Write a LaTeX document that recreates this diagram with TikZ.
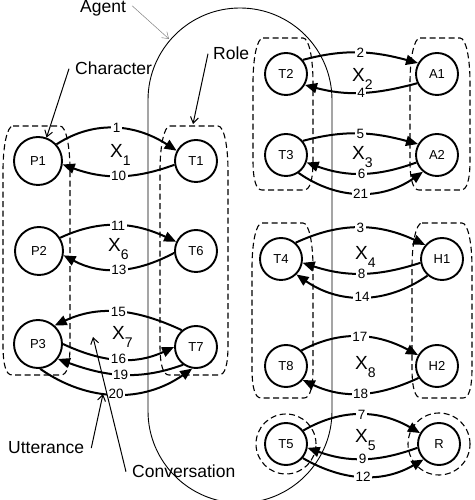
\documentclass[tikz,border=0pt]{standalone}
\usepackage{fontspec}
\setmainfont{Liberation Sans}
\usetikzlibrary{arrows.meta}

% dashed group outline: left, right, bottom, top
\newcommand{\grpoutline}[4]{%
  \draw [grp] (#1+10,#4) -- (#2-10,#4)
    .. controls (#2-4,#4) and (#2,#4-20) .. (#2,#4-45) -- (#2,#3+30)
    .. controls (#2,#3+10) and (#2-3,#3) .. (#2-9,#3) -- (#1+9,#3)
    .. controls (#1+3,#3) and (#1,#3+10) .. (#1,#3+30) -- (#1,#4-45)
    .. controls (#1,#4-20) and (#1+4,#4) .. (#1+10,#4) -- cycle;}
\newcommand{\xlab}[1]{X\raisebox{-8pt}{\fontsize{14}{14}\selectfont #1}}

\begin{document}
\begin{tikzpicture}[x=1pt, y=1pt,
    role/.style={draw, circle, line width=1.9pt, minimum size=42pt, inner sep=0pt, fill=white, font=\fontsize{13}{13}\selectfont},
    char/.style={role, minimum size=48pt},
    msg/.style={-{Triangle[length=12pt,width=10pt]}, line width=2pt},
    num/.style={fill=white, inner sep=1.5pt, font=\fontsize{13.5}{13.5}\selectfont},
    grp/.style={dash pattern=on 6pt off 3.5pt, line width=1.1pt},
    lbl/.style={anchor=base west, inner sep=0pt, font=\fontsize{17.5}{17.5}\selectfont},
    ptr/.style={-{Straight Barb[length=6pt,width=8pt]}, line width=1pt},
    xl/.style={anchor=base west, inner sep=0pt, font=\fontsize{19}{19}\selectfont}]

    \useasboundingbox (0,0) rectangle (474,500);

    % agent
    \begin{scope}
      \clip (0,0) rectangle (474,500);
      \draw [line width=0.9pt, rounded corners=92pt] (148,-3) rectangle (332,492);
    \end{scope}

    % characters, roles
    \grpoutline{3}{70}{125}{374}
    \grpoutline{160}{228}{125}{374}
    \grpoutline{253}{313}{310}{462}
    \grpoutline{410}{470}{310}{462}
    \grpoutline{252}{313}{102}{277}
    \grpoutline{412}{472}{102}{277}
    \draw [grp] (286,56) circle (30);
    \draw [grp] (439,56) circle (31);

    \node [char] at (38,339) (P1) {P1};
    \node [role] at (196,339) (T1) {T1};
    \node [char] at (39,249) (P2) {P2};
    \node [role] at (196,249) (T6) {T6};
    \node [char] at (38,156) (P3) {P3};
    \node [role] at (196,153) (T7) {T7};

    \node [role] at (286,426) (T2) {T2};
    \node [role] at (437,426) (A1) {A1};
    \node [role] at (286,345) (T3) {T3};
    \node [role] at (437,345) (A2) {A2};
    \node [role] at (281,241) (T4) {T4};
    \node [role] at (442,241) (H1) {H1};
    \node [role] at (286,134) (T8) {T8};
    \node [role] at (437,134) (H2) {H2};
    \node [role] at (286,56) (T5) {T5};
    \node [role] at (439,56) (R) {R};

    % utterances
    \path [msg, draw] (P1.42) to[out=33,in=147] node[num] {1} (T1.152);
    \path [msg, draw] (T1.190) to[out=200,in=-20] node[num] {10} (P1.352);
    \path [msg, draw] (P2.32) to[out=25,in=155] node[num] {11} (T6.155);
    \path [msg, draw] (T6.185) to[out=208,in=-28] node[num] {13} (P2.350);
    \path [msg, draw] (T7.130) to[out=155,in=25] node[num] {15} (P3.48);
    \path [msg, draw] (P3.0) to[out=-25,in=205] node[num] {16} (T7.180);
    \path [msg, draw] (T7.234) to[out=200,in=-20] node[num] {19} (P3.323);
    \path [msg, draw] (P3.275) to[out=-35,in=215] node[num] {20} (T7.260);

    \path [msg, draw] (T2.40) to[out=15,in=165] node[num] {2} (A1.150);
    \path [msg, draw] (A1.205) to[out=195,in=-15] node[num] {4} (T2.330);
    \path [msg, draw] (T3.40) to[out=15,in=165] node[num] {5} (A2.150);
    \path [msg, draw] (A2.200) to[out=200,in=-20] node[num] {6} (T3.340);
    \path [msg, draw] (T3.305) to[out=-35,in=215] node[num] {21} (A2.230);
    \path [msg, draw] (T4.48) to[out=25,in=155] node[num] {3} (H1.140);
    \path [msg, draw] (H1.190) to[out=198,in=-18] node[num] {8} (T4.350);
    \path [msg, draw] (H1.229) to[out=215,in=-35] node[num] {14} (T4.315);
    \path [msg, draw] (T8.45) to[out=28,in=152] node[num] {17} (H2.150);
    \path [msg, draw] (H2.213) to[out=205,in=-25] node[num] {18} (T8.320);
    \path [msg, draw] (T5.38) to[out=30,in=150] node[num] {7} (R.150);
    \path [msg, draw] (R.190) to[out=200,in=-20] node[num] {9} (T5.350);
    \path [msg, draw] (T5.320) to[out=-30,in=210] node[num] {12} (R.225);

    % conversations
    \node [xl] at (110,342) (X1) {\xlab{1}};
    \node [xl] at (108,248) (X6) {\xlab{6}};
    \node [xl] at (112,160) (X7) {\xlab{7}};
    \node [xl] at (352,418) (X2) {\xlab{2}};
    \node [xl] at (352,340) (X3) {\xlab{3}};
    \node [xl] at (355,240) (X4) {\xlab{4}};
    \node [xl] at (355,130) (X8) {\xlab{8}};
    \node [xl] at (355,57) (X5) {\xlab{5}};

    % labels
    \node [lbl] at (80,487) (agentlbl) {Agent};
    \node [lbl] at (213,440) (rolelbl) {Role};
    \node [lbl] at (75,425) (charlbl) {Character};
    \node [lbl] at (8,46) (uttlbl) {Utterance};
    \node [lbl] at (132,22) (convlbl) {Conversation};

    \coordinate (agenttip) at (169,461);
    \coordinate (roletip) at (193,376);
    \coordinate (utttip) at (103,106);
    \coordinate (convtip) at (93,163);

    \path [ptr, draw=gray, line width=0.5pt] ([xshift=6pt,yshift=3pt]agentlbl.east) -- (agenttip);
    \path [ptr, draw] ([xshift=-5pt]rolelbl.west) -- (roletip);
    \path [ptr, draw] ([xshift=-6pt]charlbl.west) -- (P1.70);
    \path [ptr, draw] ([xshift=7pt]uttlbl.east) -- (utttip);
    \path [ptr, draw] ([xshift=-6pt]convlbl.west) -- (convtip);

\end{tikzpicture}
\end{document}
